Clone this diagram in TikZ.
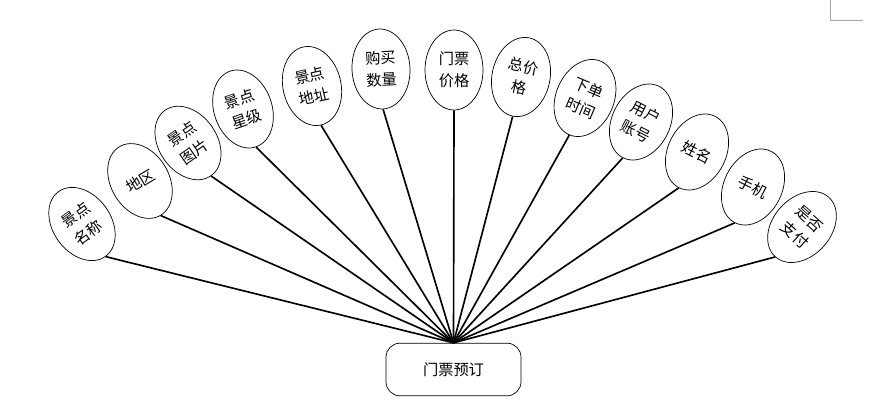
\documentclass[tikz,border=0pt]{standalone}
\usepackage{fontspec}
\newfontfamily\cjk{Noto Sans CJK SC}
\usetikzlibrary{positioning,shapes.geometric}
\tikzset{
  attr/.style={draw=black,ellipse,minimum width=1.74cm,minimum height=2.4cm,inner sep=0pt,
               align=center,line width=0.6pt,font=\cjk\fontsize{13}{18.5}\selectfont},
  entity/.style={draw=black,rounded corners=12pt,minimum width=4.05cm,minimum height=1.58cm,
                 line width=0.6pt,font=\cjk\fontsize{13}{16}\selectfont},
  link/.style={line width=1.4pt}
}
\begin{document}
\begin{tikzpicture}[x=0.03cm,y=-0.03cm]
\useasboundingbox (0,0) rectangle (879,401);
\node[entity] (order) at (453.5,369.5) {门票预订};

\node[attr, rotate=36]  (name)   at (82,224)  {景点\\名称};
\node[attr, rotate=31]  (area)   at (140,181) {地区};
\node[attr, rotate=35]  (pic)    at (188,143) {景点\\图片};
\node[attr, rotate=19]  (star)   at (243,109) {景点\\星级};
\node[attr, rotate=13]  (addr)   at (312,86)  {景点\\地址};
\node[attr, rotate=3]   (num)    at (381,69)  {购买\\数量};
\node[attr]             (price)  at (454,70)  {门票\\价格};
\node[attr, rotate=-12] (total)  at (521,77)  {总价\\格};
\node[attr, rotate=-23] (time)   at (585,98)  {下单\\时间};
\node[attr, rotate=-27] (user)   at (641,122) {用户\\账号};
\node[attr, rotate=-27] (uname)  at (697,152) {姓名};
\node[attr, rotate=-27] (phone)  at (753,187) {手机};
\node[attr, rotate=-42] (paid)   at (802,227) {是否\\支付};

\draw[link] (order.north) -- (name.south);
\draw[link] (order.north) -- (area.south);
\draw[link] (order.north) -- (pic.south);
\draw[link] (order.north) -- (star.south);
\draw[link] (order.north) -- (addr.south);
\draw[link] (order.north) -- (num.south);
\draw[link] (order.north) -- (price.south);
\draw[link] (order.north) -- (total.south);
\draw[link] (order.north) -- (time.south);
\draw[link] (order.north) -- (user.south);
\draw[link] (order.north) -- (uname.south);
\draw[link] (order.north) -- (phone.south);
\draw[link] (order.north) -- (paid.south);

% page corner mark
\draw[gray!70,line width=0.6pt] (830,0) -- (830,20) -- (863,20);
\end{tikzpicture}
\end{document}
